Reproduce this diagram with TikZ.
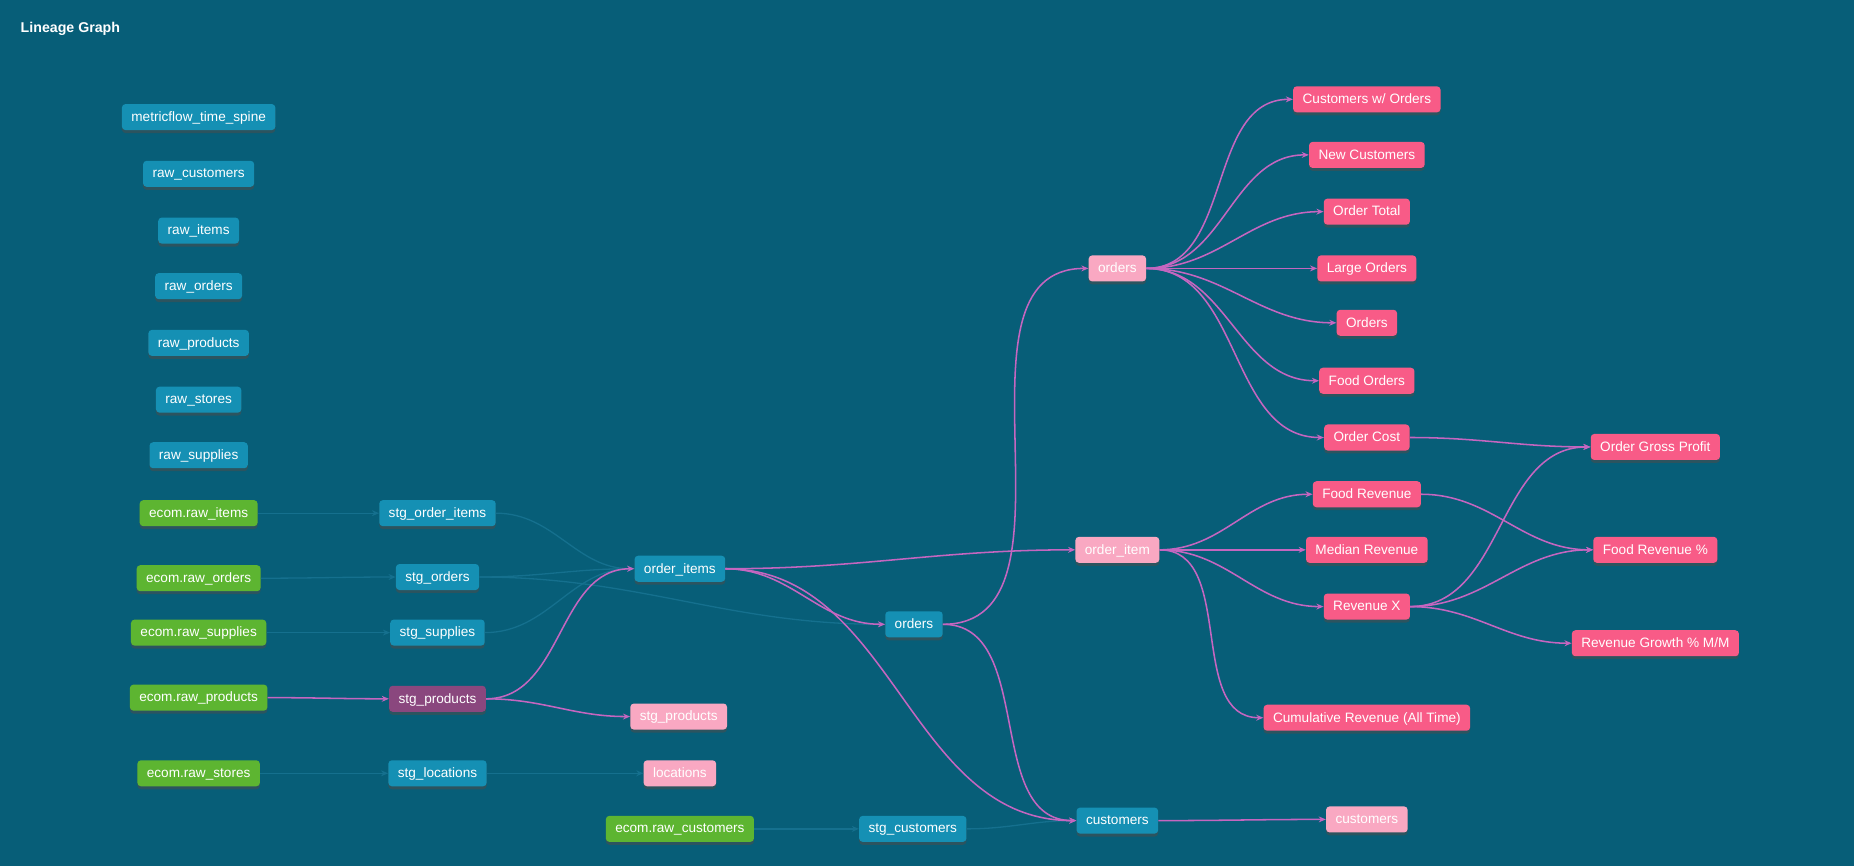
\documentclass[tikz,border=0pt]{standalone}
\usepackage{fontspec}
\setmainfont{Liberation Sans}
\usetikzlibrary{shadows,arrows.meta}
\definecolor{bg}{HTML}{075E78}
\definecolor{tealn}{HTML}{1590B4}
\definecolor{greenn}{HTML}{5DB531}
\definecolor{pinkn}{HTML}{F85B87}
\definecolor{lpink}{HTML}{F9A8C2}
\definecolor{purpn}{HTML}{8A477E}
\definecolor{edgep}{HTML}{C566C0}
\definecolor{edget}{HTML}{15708E}
\tikzset{
 nd/.style={rounded corners=3pt, inner xsep=8pt, minimum height=22pt, text=white, font=\fontsize{11.5}{12}\selectfont, text depth=1pt,
   drop shadow={shadow xshift=0pt, shadow yshift=-2.5pt, opacity=0.55, fill=black!70}},
 tn/.style={nd, fill=tealn},
 gn/.style={nd, fill=greenn},
 pn/.style={nd, fill=pinkn},
 lp/.style={nd, fill=lpink},
 pu/.style={nd, fill=purpn},
 pe/.style={draw=edgep, line width=1.3pt, -{Stealth[length=6pt,width=5pt]}, out=0, in=180},
 te/.style={draw=edget, line width=1.1pt, -{Stealth[length=6pt,width=5pt]}, out=0, in=180},
}
\begin{document}
\begin{tikzpicture}[x=1pt,y=-1pt]
\fill[bg] (0,0) rectangle (1568,732);
\useasboundingbox (0,0) rectangle (1568,732);
\node[anchor=west, text=white, font=\bfseries\fontsize{12}{12}\selectfont] (title) at (14,24) {Lineage Graph};
% column 1
\node[tn] (mts) at (168,99) {metricflow\_time\_spine};
\node[tn] (rc) at (168,147) {raw\_customers};
\node[tn] (ri) at (168,195) {raw\_items};
\node[tn] (ro) at (168,242) {raw\_orders};
\node[tn] (rp) at (168,290) {raw\_products};
\node[tn] (rs) at (168,338) {raw\_stores};
\node[tn] (rsu) at (168,385) {raw\_supplies};
\node[gn] (eri) at (168,434) {ecom.raw\_items};
\node[gn] (ero) at (168,489) {ecom.raw\_orders};
\node[gn] (ers) at (168,535) {ecom.raw\_supplies};
\node[gn] (erp) at (168,590) {ecom.raw\_products};
\node[gn] (erst) at (168,654) {ecom.raw\_stores};
% stg
\node[tn] (soi) at (370,434) {stg\_order\_items};
\node[tn] (so) at (370,488) {stg\_orders};
\node[tn] (ss) at (370,535) {stg\_supplies};
\node[pu] (sp) at (370,591) {stg\_products};
\node[tn] (sl) at (370,654) {stg\_locations};
% middle
\node[tn] (oi) at (575,481) {order\_items};
\node[lp] (spp) at (574,606) {stg\_products};
\node[lp] (loc) at (575,654) {locations};
\node[gn] (erc) at (575,701) {ecom.raw\_customers};
\node[tn] (sc) at (772,701) {stg\_customers};
\node[tn] (ord) at (773,528) {orders};
\node[tn] (cus) at (945,694) {customers};
\node[lp] (cusp) at (1156,693) {customers};
\node[lp] (ordp) at (945,227) {orders};
\node[lp] (oitp) at (945,465) {order\_item};
% metrics
\node[pn] (m1) at (1156,84) {Customers w/ Orders};
\node[pn] (m2) at (1156,131) {New Customers};
\node[pn] (m3) at (1156,179) {Order Total};
\node[pn] (m4) at (1156,227) {Large Orders};
\node[pn] (m5) at (1156,273) {Orders};
\node[pn] (m6) at (1156,322) {Food Orders};
\node[pn] (m7) at (1156,370) {Order Cost};
\node[pn] (m8) at (1156,418) {Food Revenue};
\node[pn] (m9) at (1156,465) {Median Revenue};
\node[pn] (m10) at (1156,513) {Revenue X};
\node[pn] (m11) at (1156,607) {Cumulative Revenue (All Time)};
\node[pn] (ogp) at (1400,378) {Order Gross Profit};
\node[pn] (frp) at (1400,465) {Food Revenue \%};
\node[pn] (rg) at (1400,544) {Revenue Growth \% M/M};
% teal edges
\begin{scope}[on background layer/.style={}]
\draw[te] (eri) to (soi);
\draw[te] (ero) to (so);
\draw[te] (ers) to (ss);
\draw[te] (erst) to (sl);
\draw[te] (soi) to (oi);
\draw[te] (so) to (oi);
\draw[te] (ss) to (oi);
\draw[te] (so) to (ord);
\draw[te] (sl) to (loc);
\draw[te] (erc) to (sc);
\draw[te] (sc) to (cus);
% pink edges
\draw[pe] (erp) to (sp);
\draw[pe] (sp) to (oi);
\draw[pe] (sp) to (spp);
\draw[pe] (oi) to (oitp);
\draw[pe] (oi) to (ord);
\draw[pe] (oi) to (cus);
\draw[pe] (ord) to (ordp);
\draw[pe] (ord) to (cus);
\draw[pe] (cus) to (cusp);
\foreach \m in {m1,m2,m3,m4,m5,m6,m7} \draw[pe] (ordp) to (\m);
\foreach \m in {m8,m9,m10,m11} \draw[pe] (oitp) to (\m);
\draw[pe] (m7) to (ogp);
\draw[pe] (m10) to (ogp);
\draw[pe] (m8) to (frp);
\draw[pe] (m10) to (frp);
\draw[pe] (m10) to (rg);
\end{scope}
\end{tikzpicture}
\end{document}
